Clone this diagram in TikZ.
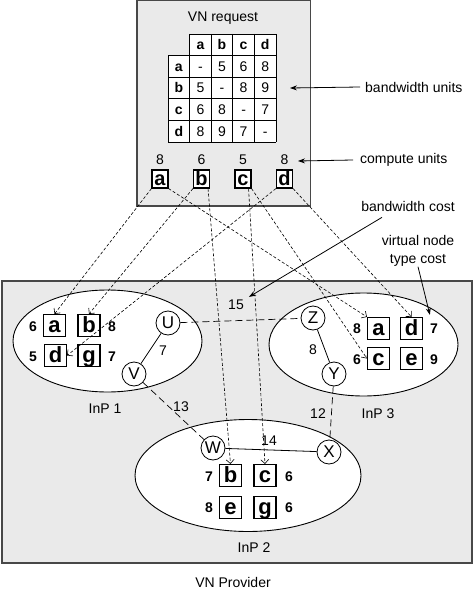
\documentclass[tikz,border=0pt]{standalone}
\usepackage{fontspec}
\setmainfont{Liberation Sans}
\usetikzlibrary{positioning,arrows.meta,calc}
\definecolor{panelgray}{HTML}{EAEAEA}
\definecolor{framegray}{HTML}{484848}

\begin{document}
\begin{tikzpicture}[x=1pt,y=-1pt,
  lbl/.style={font=\fontsize{14}{16}\selectfont, inner sep=0pt},
  cost/.style={font=\fontsize{14}{16}\selectfont\bfseries, inner sep=0pt},
  tab/.style={text height=10pt, text depth=0pt},
  reqnode/.style={draw, fill=white, line width=1.1pt, minimum width=16pt, minimum height=18pt,
    inner sep=0pt, text height=14pt, text depth=2pt, font=\fontsize{20}{20}\selectfont\bfseries},
  vnode/.style={draw, fill=white, line width=1.1pt, minimum size=22pt, inner sep=0pt,
    text height=17pt, text depth=3pt, font=\fontsize{22}{22}\selectfont\bfseries},
  snode/.style={draw, circle, fill=white, line width=0.8pt, minimum size=24pt, inner sep=0pt,
    font=\fontsize{17}{17}\selectfont},
  maparrow/.style={densely dashed, line width=0.6pt, -{Straight Barb[length=4pt]}},
  interlink/.style={line width=0.7pt, dash pattern=on 7pt off 4pt},
  pointer/.style={line width=0.8pt, -{Stealth[length=7pt, width=5pt]}}]
  \useasboundingbox (0,0) rectangle (474,591);

  % panels
  \draw[framegray, line width=1.2pt, fill=panelgray] (137,0.6) rectangle (310.5,206);
  \draw[framegray, line width=1.4pt, fill=panelgray] (2,281) rectangle (472,563);
  \node[lbl] (vnreq) at (223,18) {VN request};
  \node[lbl] (vnprov) at (233,582) {VN Provider};

  % bandwidth table
  \fill[white] (189.6,34) rectangle (276,142);
  \fill[white] (168,55.6) rectangle (189.6,142);
  \draw[line width=0.8pt] (189.6,34) -- (276,34);
  \foreach \k in {1,...,5}
    \draw[line width=0.8pt] (168,34+21.6*\k) -- (276,34+21.6*\k);
  \draw[line width=0.8pt] (168,55.6) -- (168,142);
  \foreach \k in {1,...,5}
    \draw[line width=0.8pt] (168+21.6*\k,34) -- (168+21.6*\k,142);
  \foreach \cl [count=\c] in {a,b,c,d}
    \node[cost, tab] (col\cl) at (178.8+21.6*\c,44.8) {\cl};
  \foreach \rl/\vals [count=\r] in {a/{-,5,6,8},b/{5,-,8,9},c/{6,8,-,7},d/{8,9,7,-}} {
    \node[cost, tab] (row\rl) at (178.8,44.8+21.6*\r) {\rl};
    \foreach \v [count=\c] in \vals
      \node[lbl, tab] (bw\rl\c) at (178.8+21.6*\c,44.8+21.6*\r) {\v};
  }

  % requested nodes
  \foreach \n/\cu [count=\i] in {a/8,b/6,c/5,d/8} {
    \node[reqnode] (v\n) at (118.5+41.5*\i,179) {\n};
    \node[lbl] (cu\n) at (118.5+41.5*\i,160) {\cu};
  }

  % side notes
  \node[lbl, anchor=west] (bwunits) at (365,87) {bandwidth units};
  \node[lbl, anchor=west] (cpunits) at (360,160) {compute units};
  \node[lbl] (bwcost) at (408,206) {bandwidth cost};
  \node[lbl, align=center] (typecost) at (418,251) {virtual node\\[2pt]type cost};
  \coordinate (bwtip) at (290,88);
  \coordinate (cptip) at (298,161);
  \draw[pointer] (bwunits.west) ++(-5,0) -- (bwtip);
  \draw[pointer] (cpunits.west) ++(-7,0) -- (cptip);

  % substrate domains
  \draw[line width=0.9pt, fill=white] (107.5,341) ellipse [x radius=94.5, y radius=51];
  \draw[line width=0.9pt, fill=white] (363.5,344.5) ellipse [x radius=94.5, y radius=51.5];
  \draw[line width=0.9pt, fill=white] (248,475.5) ellipse [x radius=113, y radius=56];
  \node[lbl] (inp1) at (105,409) {InP 1};
  \node[lbl] (inp3) at (378,414) {InP 3};
  \node[lbl] (inp2) at (254,548) {InP 2};

  % border nodes
  \node[snode] (U) at (168,323) {U};
  \node[snode] (V) at (134,374) {V};
  \node[snode] (Z) at (313,318) {Z};
  \node[snode] (Y) at (334,374) {Y};
  \node[snode] (W) at (213,448) {W};
  \node[snode] (X) at (329,452) {X};
  \draw[line width=0.8pt] (U) -- (V);
  \draw[line width=0.8pt] (Z) -- (Y);
  \draw[line width=0.8pt] (W) -- (X);
  \draw[interlink] (U) -- (Z);
  \draw[interlink] (V) -- (W);
  \draw[interlink] (Y) -- (X);
  \node[lbl] (l7) at (163,351) {7};
  \node[lbl] (l8) at (313,350) {8};
  \node[lbl] (l14) at (269,441) {14};
  \node[lbl] (l15) at (236,305) {15};
  \node[lbl] (l13) at (181,407) {13};
  \node[lbl] (l12) at (318,414) {12};

  % offered node types with their costs
  \node[vnode] (p1a) at (54.5,325.5) {a};
  \node[vnode] (p1b) at (89,325.5) {b};
  \node[vnode] (p1d) at (55.5,355.5) {d};
  \node[vnode] (p1g) at (89,355.5) {g};
  \node[cost] (k1a) at (33,327) {6};
  \node[cost] (k1b) at (112,327) {8};
  \node[cost] (k1d) at (33,357) {5};
  \node[cost] (k1g) at (112,357) {7};

  \node[vnode] (p3a) at (378.5,328.5) {a};
  \node[vnode] (p3d) at (411.5,328.5) {d};
  \node[vnode] (p3c) at (378.5,358.5) {c};
  \node[vnode] (p3e) at (411.5,358.5) {e};
  \node[cost] (k3a) at (357,329) {8};
  \node[cost] (k3d) at (434,329) {7};
  \node[cost] (k3c) at (357,360) {6};
  \node[cost] (k3e) at (434,360) {9};

  \node[vnode] (p2b) at (230.5,475.5) {b};
  \node[vnode] (p2c) at (265,475.5) {c};
  \node[vnode] (p2e) at (230.5,507.5) {e};
  \node[vnode] (p2g) at (265,507.5) {g};
  \node[cost] (k2b) at (209,477) {7};
  \node[cost] (k2c) at (289,477) {6};
  \node[cost] (k2e) at (209,508) {8};
  \node[cost] (k2g) at (289,508) {6};

  % candidate mappings
  \draw[maparrow] (va.south west) -- (p1a.north);
  \draw[maparrow] (va.south east) -- (p3a.north west);
  \draw[maparrow] (vb.south west) -- (p1b.north);
  \draw[maparrow] ([xshift=-2pt]vb.south east) -- (p2b.north);
  \draw[maparrow] ([xshift=-3pt]vc.south east) -- (p2c.north);
  \draw[maparrow] (vc.south east) -- (p3c.west);
  \draw[maparrow] (vd.south west) -- (p1d.east);
  \draw[maparrow] (vd.south east) -- (p3d.north);

  % cost pointers
  \draw[pointer] ($(bwcost.south)+(-26,6)$) -- ($(l15.north east)+(5,-3)$);
  \draw[pointer] (typecost.south) -- ([yshift=9pt]k3d.north west);
\end{tikzpicture}
\end{document}
